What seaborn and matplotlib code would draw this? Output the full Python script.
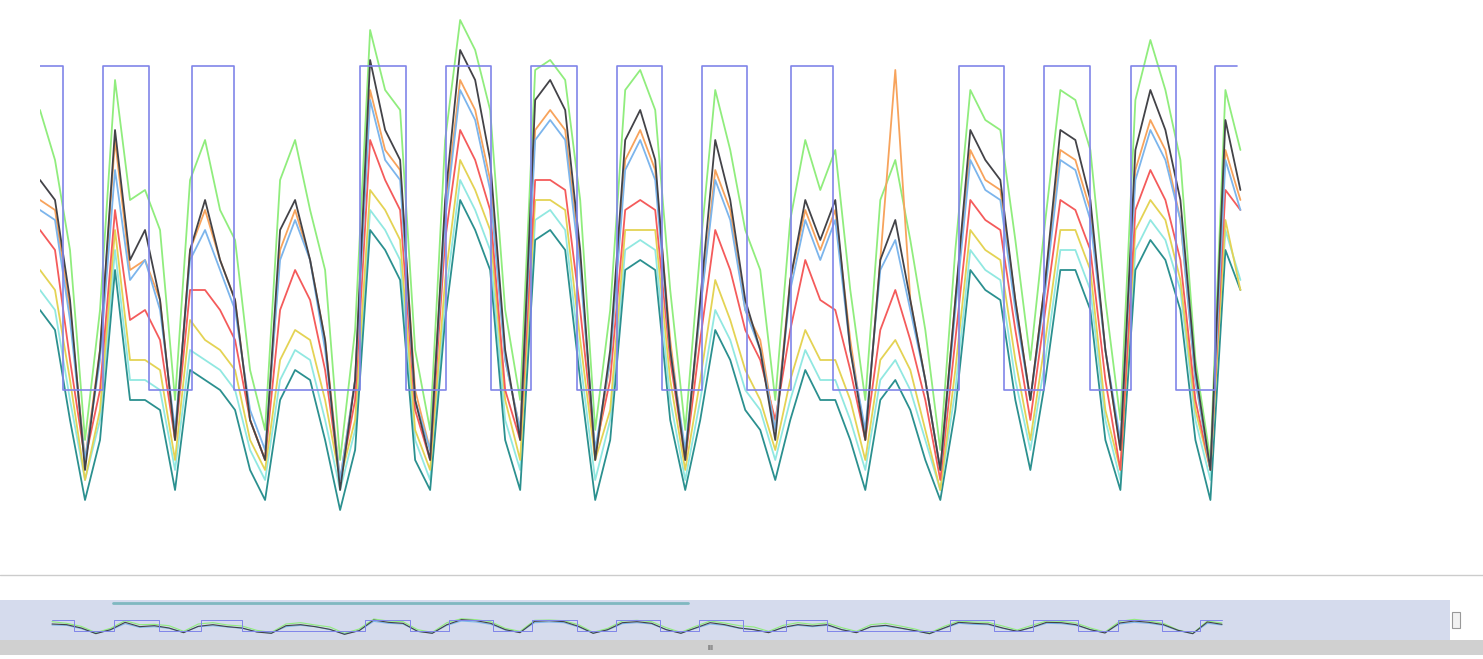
import numpy as np
import pandas as pd
import matplotlib.pyplot as plt
import seaborn as sns

# Series values (0 = bottom of plot, 100 = top), one sample per time step
dark = [66,62,42,8,32,76,50,56,42,14,52,62,50,42,18,10,56,62,50,34,4,26,90,76,70,22,10,62,92,86,70,32,14,82,86,80,52,10,32,74,80,70,32,10,42,74,62,42,32,14,46,62,54,62,32,14,50,58,42,26,8,42,76,70,66,42,22,46,76,74,62,32,12,72,84,76,62,28,8,78,64]
green = [80,70,52,14,40,86,62,64,56,22,66,74,60,54,28,16,66,74,60,48,10,36,96,84,80,32,16,74,98,92,80,40,22,88,90,86,62,16,40,84,88,80,44,16,52,84,72,56,48,22,58,74,64,72,44,22,62,70,54,36,12,52,84,78,76,54,30,58,84,82,72,42,18,82,94,84,70,30,10,84,72]
blue = [60,58,38,10,30,68,46,50,40,16,50,56,48,40,20,12,50,58,50,32,6,26,82,70,66,22,12,58,84,78,64,30,16,74,78,74,48,12,30,68,74,66,32,12,40,66,58,40,32,16,44,58,50,58,32,16,48,54,40,26,8,40,70,64,62,40,22,44,70,68,58,32,14,66,76,70,58,26,8,70,60]
orange = [62,60,40,10,32,74,48,50,42,14,52,60,50,42,18,10,52,60,50,34,6,26,84,72,68,24,12,60,86,80,66,30,16,76,80,76,50,10,30,70,76,68,34,10,40,68,60,40,34,16,46,60,52,60,34,14,50,88,42,26,8,42,72,66,64,42,22,46,72,70,60,32,12,68,78,72,58,26,8,72,62]
red = [56,52,30,10,24,60,38,40,34,14,44,44,40,34,18,10,40,48,42,28,6,22,74,66,60,20,10,54,76,70,60,24,14,66,66,64,40,12,26,60,62,60,30,10,34,56,48,36,30,18,36,50,42,40,28,14,36,44,34,22,6,34,62,58,56,36,18,40,62,60,52,26,8,60,68,62,50,22,8,64,60]
yellow = [48,44,26,6,20,56,30,30,28,10,38,34,32,28,14,8,30,36,34,22,6,18,64,60,54,16,8,46,70,64,56,22,10,62,62,60,34,10,20,56,56,56,26,8,26,46,38,28,22,12,26,36,30,30,22,10,30,34,28,16,4,28,56,52,50,30,14,34,56,56,48,20,8,56,62,58,46,20,8,58,44]
teal = [44,40,22,6,18,52,26,26,24,8,32,30,28,24,12,6,26,32,30,18,4,16,60,56,50,14,6,42,66,60,52,18,8,58,60,56,30,6,18,52,54,52,22,6,22,40,34,24,20,10,22,32,26,26,18,8,26,30,24,14,4,24,52,48,46,26,12,30,52,52,44,18,6,52,58,54,44,18,6,56,46]
dark_teal = [40,36,18,2,14,48,22,22,20,4,28,26,24,20,8,2,22,28,26,14,0,12,56,52,46,10,4,38,62,56,48,14,4,54,56,52,26,2,14,48,50,48,18,4,18,36,30,20,16,6,18,28,22,22,14,4,22,26,20,10,2,20,48,44,42,22,8,26,48,48,40,14,4,48,54,50,40,14,2,52,44]

# Square-wave state series: switching times and the two levels
step_times = [0, 1.53, 4.2, 7.27, 10.13, 12.93, 21.33, 24.4, 27.07, 30.07, 32.73, 35.8,
              38.47, 41.47, 44.13, 47.13, 50.07, 52.87, 61.27, 64.27, 66.93, 70, 72.73,
              75.73, 78.33, 79.8]
step_high, step_low = 88.8, 24

series = {
    "teal": (teal, "#91e8e1"),
    "dark_teal": (dark_teal, "#2b908f"),
    "yellow": (yellow, "#e4d354"),
    "red": (red, "#f45b5b"),
    "green": (green, "#90ed7d"),
    "orange": (orange, "#f7a35c"),
    "blue": (blue, "#7cb5ec"),
    "dark": (dark, "#434348"),
}

rows = []
for name, (vals, _) in series.items():
    t = np.linspace(0, 80, len(vals))
    rows += [{"t": a, "v": b, "s": name} for a, b in zip(t, vals)]
df = pd.DataFrame(rows)
palette = {k: c for k, (_, c) in series.items()}

sx, sy = [], []
for i in range(len(step_times) - 1):
    lvl = step_high if i % 2 == 0 else step_low
    sx += [step_times[i], step_times[i + 1]]
    sy += [lvl, lvl]

sns.set_style("white")
fig = plt.figure(figsize=(14.83, 6.59), dpi=100)

W, H = 1483, 659
ax = fig.add_axes([40 / W, 1 - 560 / H, 1430 / W, 550 / H])
sns.lineplot(data=df, x="t", y="v", hue="s", palette=palette, linewidth=1.3,
             legend=False, ax=ax, estimator=None)
ax.plot(sx, sy, color="#8085e9", linewidth=1.2)
ax.set_xlim(0, 95.3)
ax.set_ylim(-10, 100)
ax.axis("off")

# separator line
fig.add_artist(plt.Line2D([0, 1], [1 - 575 / H] * 2, color="#cccccc", linewidth=1))

# navigator
nav = fig.add_axes([0, 1 - 640 / H, 1450 / W, 40 / H])
nav.set_facecolor("#d5dbed")
tn = np.linspace(52 / 15, 1222 / 15, len(dark))
for name in ["green", "blue", "dark"]:
    vals, c = series[name]
    nav.plot(tn, vals, color=c, linewidth=0.8)
nav.plot(np.array(sx) * (1170 / 1197) + 52 / 15, sy, color="#8085e9", linewidth=0.7)
nav.plot([113 / 15, 688 / 15], [192, 192], color="#7fb8c0", linewidth=2)
nav.set_xlim(0, 1450 / 15)
nav.set_ylim(-30, 210)
nav.set_xticks([]); nav.set_yticks([])
for s in nav.spines.values():
    s.set_visible(False)

# right-hand handle
fig.add_artist(plt.Rectangle((1452 / W, 1 - 628 / H), 8 / W, 16 / H, facecolor="#f2f2f2",
                             edgecolor="#999999", linewidth=0.8))

# scrollbar
sb = fig.add_axes([0, 1 - 655 / H, 1, 15 / H])
sb.set_facecolor("#d0d0d0")
sb.set_xticks([]); sb.set_yticks([])
for s in sb.spines.values():
    s.set_visible(False)
sb.text(710 / W, 0.5, "III", ha="center", va="center", fontsize=5, color="#333333",
        transform=sb.transAxes)

fig.savefig("out.png", dpi=100)
